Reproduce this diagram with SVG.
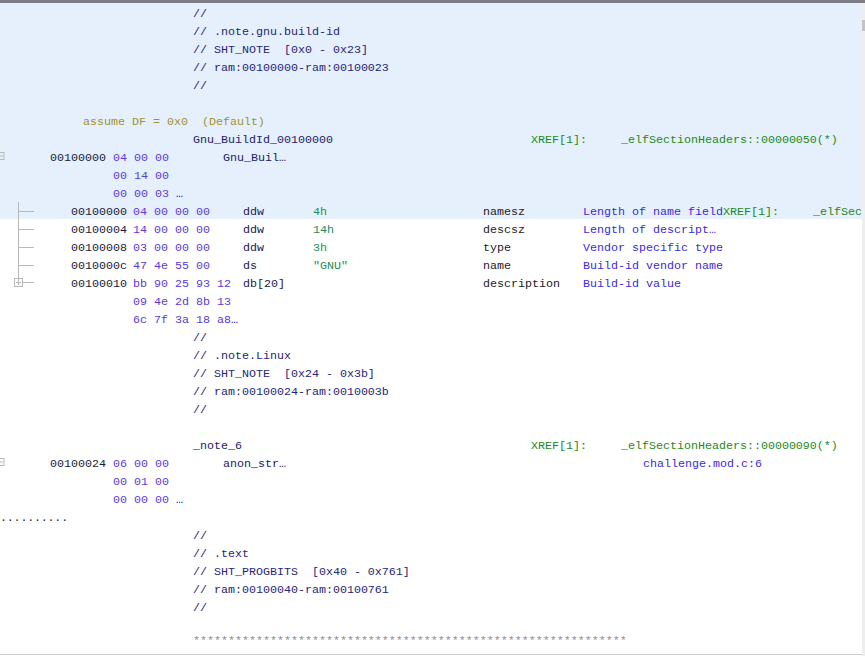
<svg xmlns="http://www.w3.org/2000/svg" width="865" height="656" viewBox="0 0 865 656">
<style>
text{font-family:"Liberation Mono","Courier New",monospace;font-size:11.67px;white-space:pre}
.c{fill:#25257a}.a{fill:#1a1a3a}.b{fill:#5a3ad8}.l{fill:#20206a}.m{fill:#202050}.n{fill:#1e8a5a}
.f{fill:#1a1a2a}.d{fill:#3a2ae0}.x{fill:#1a8a1a}.o{fill:#a09030}.s{fill:#9090a0}
.t{stroke:#b8b8b8;stroke-width:1;fill:none}
</style>
<rect width="865" height="656" fill="#fff"/>
<rect x="0" y="0" width="862" height="219" fill="#e6f0fc"/>
<rect x="0" y="0" width="865" height="3" fill="#7c7c84"/>
<rect x="862" y="3" width="3" height="653" fill="#eeeeee"/>
<rect x="862" y="20" width="3" height="11" fill="#c4c4c4"/>
<line x1="0" y1="654.5" x2="862" y2="654.5" stroke="#cfcfcf"/>
<g class="t">
<rect x="-3" y="152.5" width="7" height="7"/><line x1="-1" y1="156" x2="3" y2="156"/>
<rect x="-3" y="458.5" width="7" height="7"/><line x1="-1" y1="462" x2="3" y2="462"/>
<line x1="18.5" y1="202" x2="18.5" y2="282"/>
<line x1="18" y1="211.5" x2="34" y2="211.5"/><line x1="18" y1="229.5" x2="34" y2="229.5"/>
<line x1="18" y1="247.5" x2="34" y2="247.5"/><line x1="18" y1="265.5" x2="34" y2="265.5"/>
<line x1="22" y1="282.5" x2="34" y2="282.5"/>
<rect x="14.5" y="278.5" width="8" height="8"/><line x1="16" y1="282.5" x2="21" y2="282.5"/><line x1="18.5" y1="280" x2="18.5" y2="285"/>
</g>
<g class="c">
<text x="193" y="17">//</text>
<text x="193" y="35">// .note.gnu.build-id</text>
<text x="193" y="53">// SHT_NOTE  [0x0 - 0x23]</text>
<text x="193" y="71">// ram:00100000-ram:00100023</text>
<text x="193" y="89">//</text>
<text x="193" y="341">//</text>
<text x="193" y="359">// .note.Linux</text>
<text x="193" y="377">// SHT_NOTE  [0x24 - 0x3b]</text>
<text x="193" y="395">// ram:00100024-ram:0010003b</text>
<text x="193" y="413">//</text>
<text x="193" y="539">//</text>
<text x="193" y="557">// .text</text>
<text x="193" y="575">// SHT_PROGBITS  [0x40 - 0x761]</text>
<text x="193" y="593">// ram:00100040-ram:00100761</text>
<text x="193" y="611">//</text>
</g>
<text x="83" y="125" class="o">assume DF = 0x0  (Default)</text>
<text x="193" y="143" class="l">Gnu_BuildId_00100000</text>
<text x="531" y="143" class="x">XREF[1]:</text>
<text x="621" y="143" class="x">_elfSectionHeaders::00000050(*)</text>
<text x="50" y="161" class="a">00100000</text>
<text x="113" y="161" class="b">04 00 00</text>
<text x="223" y="161" class="l">Gnu_Buil…</text>
<text x="113" y="179" class="b">00 14 00</text>
<text x="113" y="197" class="b">00 00 03 <tspan fill="#1010c0">…</tspan></text>
<g class="a">
<text x="71" y="215">00100000</text><text x="71" y="233">00100004</text><text x="71" y="251">00100008</text><text x="71" y="269">0010000c</text><text x="71" y="287">00100010</text>
</g>
<g class="b">
<text x="133" y="215">04 00 00 00</text><text x="133" y="233">14 00 00 00</text><text x="133" y="251">03 00 00 00</text><text x="133" y="269">47 4e 55 00</text><text x="133" y="287">bb 90 25 93 12</text>
<text x="133" y="305">09 4e 2d 8b 13</text><text x="133" y="323">6c 7f 3a 18 a8<tspan fill="#1010c0">…</tspan></text>
</g>
<g class="m">
<text x="243" y="215">ddw</text><text x="243" y="233">ddw</text><text x="243" y="251">ddw</text><text x="243" y="269">ds</text><text x="243" y="287">db[20]</text>
</g>
<g class="n">
<text x="313" y="215">4h</text><text x="313" y="233">14h</text><text x="313" y="251">3h</text><text x="313" y="269">"GNU"</text>
</g>
<g class="f">
<text x="483" y="215">namesz</text><text x="483" y="233">descsz</text><text x="483" y="251">type</text><text x="483" y="269">name</text><text x="483" y="287">description</text>
</g>
<g class="d">
<text x="583" y="215">Length of name field</text><text x="583" y="233">Length of descript…</text><text x="583" y="251">Vendor specific type</text><text x="583" y="269">Build-id vendor name</text><text x="583" y="287">Build-id value</text>
</g>
<text x="723" y="215" class="x">XREF[1]:</text>
<text x="813" y="215" class="x">_elfSec</text>
<text x="193" y="449" class="l">_note_6</text>
<text x="531" y="449" class="x">XREF[1]:</text>
<text x="621" y="449" class="x">_elfSectionHeaders::00000090(*)</text>
<text x="50" y="467" class="a">00100024</text>
<text x="113" y="467" class="b">06 00 00</text>
<text x="223" y="467" class="l">anon_str…</text>
<text x="643" y="467" class="d">challenge.mod.c:6</text>
<text x="113" y="485" class="b">00 01 00</text>
<text x="113" y="503" class="b">00 00 00 <tspan fill="#1010c0">…</tspan></text>
<text x="0" y="521" class="a" style="letter-spacing:-0.2px">..........</text>
<text x="193" y="644" class="s">**************************************************************</text>
</svg>
